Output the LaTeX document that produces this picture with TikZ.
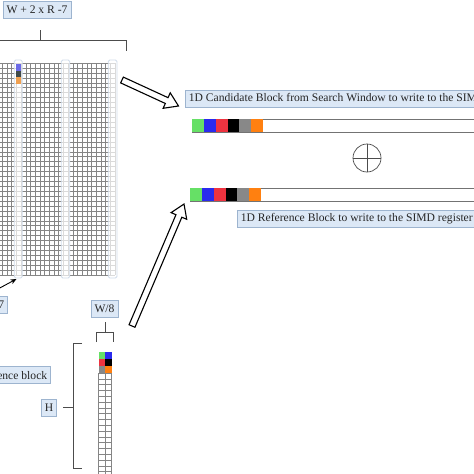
\documentclass[tikz,border=0pt]{standalone}
\usepackage{fontspec}
\setmainfont{Liberation Serif}
\usetikzlibrary{calc,arrows.meta}
\definecolor{lblfill}{HTML}{DCE8F6}
\definecolor{lbldraw}{HTML}{9DB4CF}
\definecolor{hlcol}{HTML}{CFDBEA}
\definecolor{gridc}{HTML}{858585}
\definecolor{cgreen}{HTML}{66E066}
\definecolor{cblue}{HTML}{2A2AEE}
\definecolor{cred}{HTML}{EE3340}
\definecolor{cgray}{HTML}{888888}
\definecolor{corange}{HTML}{FF8010}
\definecolor{gblue}{HTML}{6A6AE8}
\definecolor{gdark}{HTML}{3E4A4A}
\definecolor{gorange}{HTML}{F0A050}
\newcommand{\hollowarrow}[2]{%
  \coordinate (hwbase) at ($(#2)!13pt!(#1)$);
  \draw[harrow]
    ($(#1)!3.2pt!-90:(#2)$) --
    ($(hwbase)!3.2pt!-90:(#2)$) --
    ($(hwbase)!8.5pt!-90:(#2)$) --
    (#2) --
    ($(hwbase)!8.5pt!90:(#2)$) --
    ($(hwbase)!3.2pt!90:(#2)$) --
    ($(#1)!3.2pt!90:(#2)$) -- cycle;}
\begin{document}
\begin{tikzpicture}[x=1pt,y=-1pt,
  lbl/.style={draw=lbldraw,fill=lblfill,line width=0.6pt,inner xsep=3.5pt,inner ysep=2pt,
    minimum height=17pt,font=\fontsize{11.6}{12}\selectfont,text=black!85},
  gridline/.style={draw=gridc,line width=0.4pt},
  hl/.style={draw=hlcol,line width=0.8pt,fill=white,fill opacity=0.7,rounded corners=1.5pt},
  brk/.style={draw=black!70,line width=0.9pt},
  reg/.style={draw=black!55,line width=0.7pt},
  harrow/.style={draw=black,line width=1.1pt,fill=white,line join=miter}]
\useasboundingbox (0,0) rectangle (474,474);
\clip (0,0) rectangle (474,474);
\fill[white] (0,0) rectangle (474,474);

% search window grid
\foreach \i in {0,...,25} \draw[gridline] ({-2.5+\i*4.7},63) -- ({-2.5+\i*4.7},275);
\foreach \j in {0,...,43} \draw[gridline] (-2.5,{63+\j*4.93}) -- (115,{63+\j*4.93});
\draw[hl] (14.2,60) rectangle (22.2,278);
\draw[hl] (61.3,60) rectangle (69.8,278);
\draw[hl] (108.3,60) rectangle (117,278);
\fill[gblue] (15.8,64) rectangle (20.6,70.5);
\fill[gdark] (15.8,70.5) rectangle (20.6,77);
\fill[gorange] (15.8,77) rectangle (20.6,84);

% top bracket and label
\node[lbl] (wlbl) at (37,9.5) {W + 2 x R -7};
\coordinate (tb1) at (-5,40);
\coordinate (tb2) at (126,40);
\coordinate (tb3) at (126,51);
\coordinate (tbm) at (40,40);
\coordinate (tbt) at (40,30);
\draw[brk] (tb1) -- (tb2) -- (tb3);
\draw[brk] (tbt) -- (tbm);

% left partial label and arrow
\node[lbl,anchor=east] (hlbl) at (8,305) {H + 2 x R -7};
\coordinate (la0) at (-3,289.5);
\coordinate (la1) at (16.5,279);
\draw[line width=0.9pt,-{Stealth[length=6pt,width=5pt]}] (la0) -- (la1);

% W/8 label and bracket
\node[lbl,minimum width=27pt] (w8) at (104.5,308.5) {W/8};
\coordinate (wb0) at (105,322);
\coordinate (wb1) at (105,332);
\coordinate (wbl) at (96,332);
\coordinate (wbr) at (113,332);
\draw[brk] (wb0) -- (wb1);
\draw[brk] ($(wbl)+(0,10)$) -- (wbl) -- (wbr) -- ($(wbr)+(0,10)$);

% reference block
\fill[cgreen] (98.5,352) rectangle (105,359);
\fill[cblue] (105,352) rectangle (111.5,359);
\fill[cred] (98.5,359) rectangle (105,366);
\fill[black] (105,359) rectangle (111.5,366);
\fill[cgray] (98.5,366) rectangle (105,373);
\fill[corange] (105,366) rectangle (111.5,373);
\foreach \j in {0,...,18} \draw[gridline] (98.5,{373+\j*5.8}) -- (111.5,{373+\j*5.8});
\foreach \x in {98.5,105,111.5} \draw[gridline] (\x,373) -- (\x,480);

% H bracket
\coordinate (hb0) at (82,343);
\coordinate (hb1) at (73,343);
\coordinate (hb2) at (73,468);
\coordinate (hb3) at (82,468);
\coordinate (hbm) at (73,407);
\coordinate (hbt) at (63,407);
\draw[brk] (hb0) -- (hb1) -- (hb2) -- (hb3);
\draw[brk] (hbm) -- (hbt);
\node[lbl] (hlab) at (49,407.5) {H};
\node[lbl,anchor=east] (reflbl) at (51,375) {Reference block};

% registers
\node[lbl,anchor=west] (candlbl) at (185,98.5) {1D Candidate Block from Search Window to write to the SIMD register};
\draw[reg] (192,119) rectangle (485,132);
\foreach \c [count=\k from 0] in {cgreen,cblue,cred,black,cgray,corange}
  \fill[\c] ({192.4+\k*11.7},119.4) rectangle ({192.4+(\k+1)*11.7},131.6);
\draw[reg] (190,188) rectangle (485,201);
\foreach \c [count=\k from 0] in {cgreen,cblue,cred,black,cgray,corange}
  \fill[\c] ({190.4+\k*11.7},188.4) rectangle ({190.4+(\k+1)*11.7},200.6);
\node[lbl,anchor=west] (reflbl2) at (237,218.5) {1D Reference Block to write to the SIMD register};

% xor symbol
\node[circle,draw=black!70,line width=0.7pt,minimum size=28pt,inner sep=0pt] (xo) at (367,158) {};
\draw[black!70,line width=0.7pt] (xo.north) -- (xo.south) (xo.west) -- (xo.east);

% hollow arrows
\coordinate (a1s) at (122,80);
\coordinate (a1e) at (178.5,106);
\hollowarrow{a1s}{a1e}
\coordinate (a2s) at (132,326);
\coordinate (a2e) at (184,204);
\hollowarrow{a2s}{a2e}
\end{tikzpicture}
\end{document}
